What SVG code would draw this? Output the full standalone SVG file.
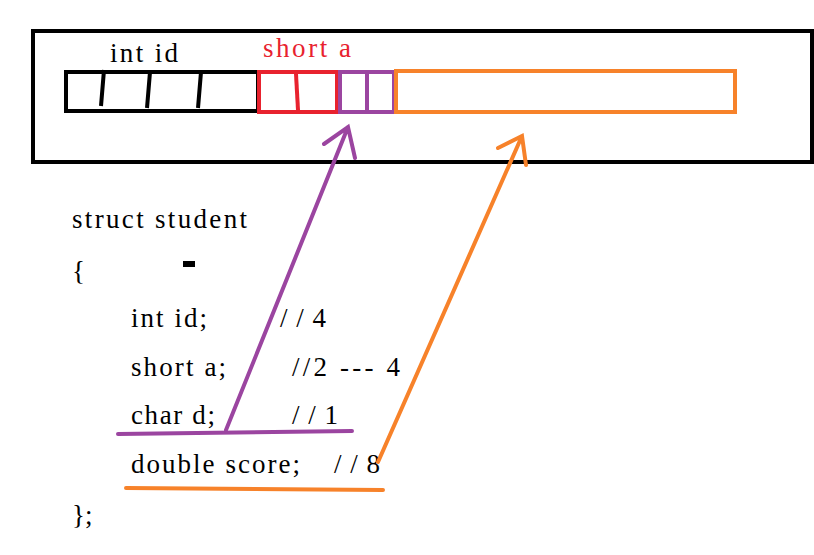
<svg xmlns="http://www.w3.org/2000/svg" width="814" height="555" viewBox="0 0 814 555">
<style>
text{font-family:'Liberation Serif','DejaVu Serif','Times New Roman',serif;font-size:27px;fill:#000}
.k{fill:none;stroke:#000;stroke-width:4}
.p{fill:none;stroke:#9b45a0;stroke-width:4;stroke-linecap:round}
.o{fill:none;stroke:#f7822a;stroke-width:4;stroke-linecap:round}
.r{fill:none;stroke:#e8222e;stroke-width:4}
</style>
<rect width="814" height="555" fill="#fff"/>
<g id="memory">
<rect x="33" y="31" width="779" height="131" class="k" stroke-width="5"/>
<rect x="66" y="72" width="192" height="39" class="k"/>
<path d="M104 70L101 106M150 72L147 108M201 72L198 108" class="k"/>
<rect x="259" y="72" width="78" height="40" class="r"/>
<path d="M296 74L298 110" class="r"/>
<rect x="340" y="72" width="54" height="40" class="p" stroke-linecap="butt"/>
<path d="M367 74L367 110" class="p"/>
<rect x="396" y="71" width="339" height="41" class="o" stroke-linecap="butt"/>
<text x="110" y="62" textLength="68">int id</text>
<text x="263" y="57" textLength="88" style="fill:#e8222e">short a</text>
</g>
<g id="code">
<text x="72" y="228" textLength="175">struct student</text>
<text x="72" y="280">{</text>
<rect x="183" y="261" width="12" height="6" fill="#000"/>
<text x="131" y="327" textLength="76">int id;</text>
<text x="280" y="327" textLength="46">//4</text>
<text x="131" y="376" textLength="95">short a;</text>
<text x="292" y="376" textLength="108">//2 --- 4</text>
<text x="131" y="424" textLength="84">char d;</text>
<text x="292" y="424" textLength="46">//1</text>
<text x="131" y="473" textLength="169">double score;</text>
<text x="334" y="473" textLength="46">//8</text>
<text x="72" y="524">};</text>
</g>
<g id="connectors">
<path d="M118 434L352 431" class="p"/>
<path d="M226 430L348 127M324 144L348 127L355 158" class="p"/>
<path d="M126 488L383 490" class="o"/>
<path d="M378 462L522 136M498 148L522 136L526 165" class="o"/>
</g>
</svg>
